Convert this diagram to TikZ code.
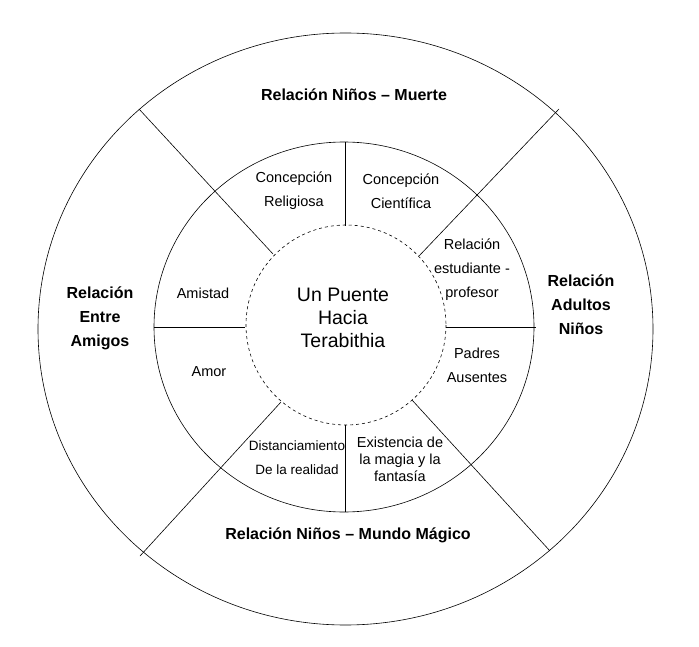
\documentclass[tikz,border=0pt]{standalone}
\usepackage{fontspec}
\setmainfont{Liberation Sans}
\begin{document}
\begin{tikzpicture}[x=1pt,y=-1pt,
  ln/.style={line width=0.6pt},
  big/.style={font=\bfseries\fontsize{16}{24}\selectfont,align=center},
  sm/.style={font=\fontsize{14.5}{24}\selectfont,align=center},
  mid/.style={font=\fontsize{19.5}{23}\selectfont,align=center}]
\useasboundingbox (0,0) rectangle (699,647);
\coordinate (c) at (345,327);
\draw[ln] (345.5,329) ellipse [x radius=307.5, y radius=296];
\draw[ln] (344,327) ellipse [x radius=190, y radius=185];
\draw[ln,dashed] (346,325) ellipse [x radius=100, y radius=100];
\draw[ln] (345,226) -- (345,142);
\draw[ln] (345,425) -- (345,512);
\draw[ln] (154,327) -- (245,327);
\draw[ln] (446,327) -- (536,327);
\draw[ln] (139,109) -- (273,254);
\draw[ln] (559,109) -- (419,256);
\draw[ln] (140,556) -- (281,402);
\draw[ln] (550,551) -- (412,400);
\node[big] (t) at (354,95) {Relación Niños – Muerte};
\node[big] (b) at (348,535) {Relación Niños – Mundo Mágico};
\node[big] (l) at (100,318) {Relación\\Entre\\Amigos};
\node[big] (r) at (581,305) {Relación\\Adultos\\Niños};
\node[mid] (m) at (343,318) {Un Puente\\Hacia\\Terabithia};
\node[sm] (cr) at (294,191) {Concepción\\Religiosa};
\node[sm] (cc) at (401,191) {Concepción\\Científica};
\node[sm] (re) at (472,270) {Relación\\estudiante -\\profesor};
\node[sm] (am) at (203,293) {Amistad};
\node[sm] (ao) at (209,372) {Amor};
\node[sm] (pa) at (477,365) {Padres\\Ausentes};
\node[sm,font=\fontsize{13.5}{24}\selectfont] (di) at (297,458) {Distanciamiento\\De la realidad};
\node[sm,font=\fontsize{14.5}{17}\selectfont] (ex) at (400,459) {Existencia de\\la magia y la\\fantasía};
\end{tikzpicture}
\end{document}
